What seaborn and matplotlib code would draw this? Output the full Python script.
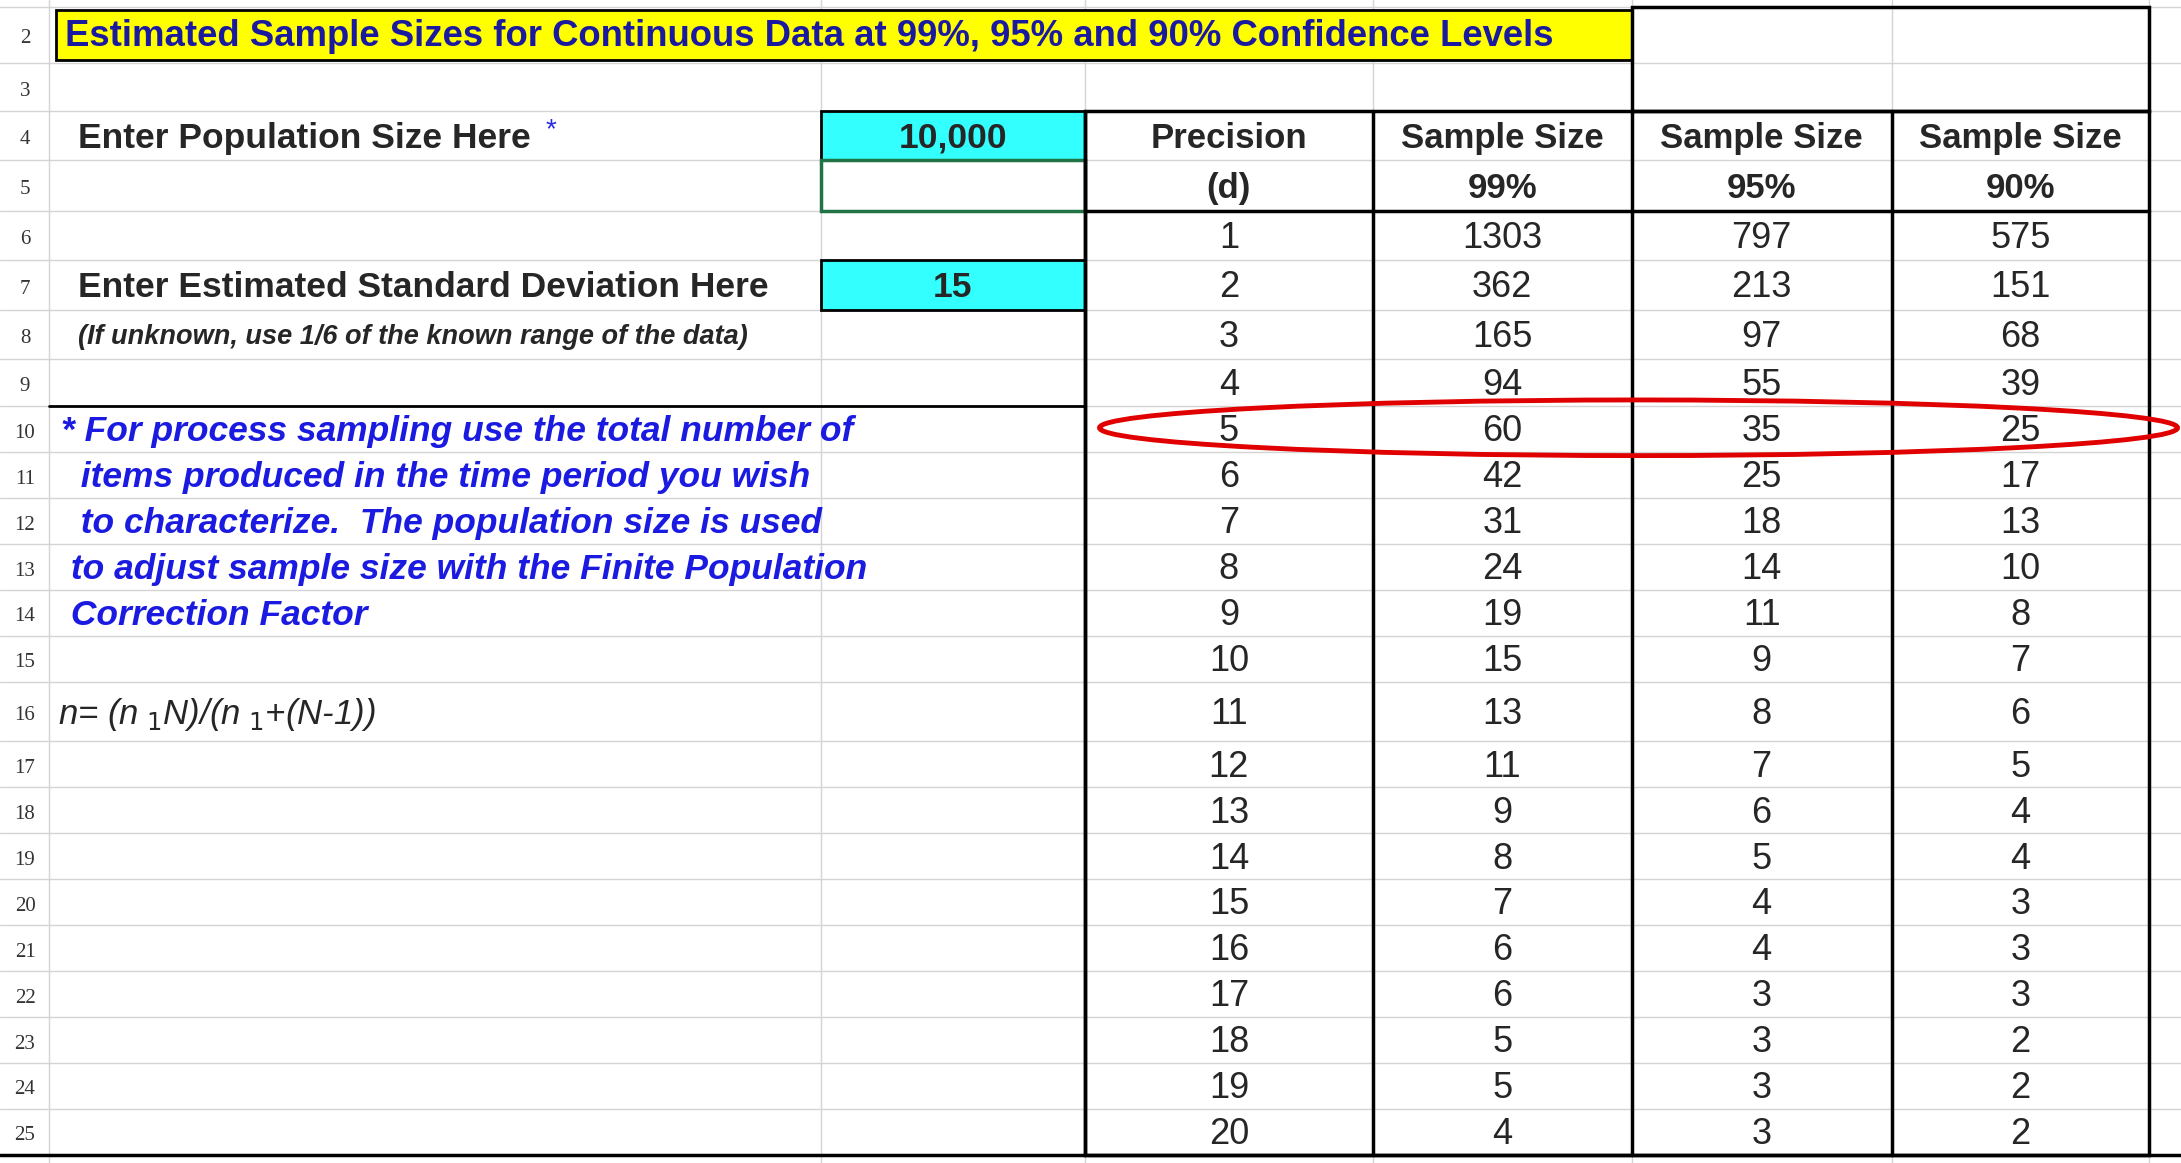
import matplotlib
matplotlib.use("Agg")
import matplotlib.pyplot as plt
import seaborn as sns
from matplotlib.patches import Rectangle, Ellipse

sns.set_style("white")
plt.rcParams['font.family'] = ['Liberation Sans', 'DejaVu Sans']

precision = list(range(1, 21))
size99 = [1303, 362, 165, 94, 60, 42, 31, 24, 19, 15, 13, 11, 9, 8, 7, 6, 6, 5, 5, 4]
size95 = [797, 213, 97, 55, 35, 25, 18, 14, 11, 9, 8, 7, 6, 5, 4, 4, 3, 3, 3, 3]
size90 = [575, 151, 68, 39, 25, 17, 13, 10, 8, 7, 6, 5, 4, 4, 3, 3, 3, 2, 2, 2]
title = "Estimated Sample Sizes for Continuous Data at 99%, 95% and 90% Confidence Levels"
note_lines = ["* For process sampling use the total number of",
              "  items produced in the time period you wish",
              "  to characterize.  The population size is used",
              " to adjust sample size with the Finite Population",
              " Correction Factor"]

fig = plt.figure(figsize=(21.81, 11.63), dpi=100)
ax = fig.add_axes([0, 0, 1, 1])
ax.set_xlim(0, 1568); ax.set_ylim(836, 0); ax.axis('off')

rows = [2] + list(range(3, 26))
edges = [5, 45, 80, 115, 152, 187, 223, 258, 292, 325, 358, 391, 424, 457, 490,
         533, 566, 599, 632, 665, 698, 731, 764, 797, 830]
cols = [35, 590, 780, 987, 1173, 1360, 1545]
LG = '#d4d4d4'
for y in edges:
    ax.plot([0, 1568], [y, y], color=LG, lw=1)
for x in cols:
    ax.plot([x, x], [0, 836], color=LG, lw=1)
for i, r in enumerate(rows):
    yc = (edges[i] + edges[i+1]) / 2
    ax.text(18, yc + 3, str(r), ha='center', va='center', fontsize=15, family='Liberation Serif', color='#333')

def cy(r):
    i = rows.index(r); return (edges[i] + edges[i+1]) / 2 + 2

ax.add_patch(Rectangle((40, 7), 1133, 36, facecolor='#ffff00', edgecolor='black', lw=2, zorder=2))
ax.text(47, 26, title, fontsize=26.3, fontweight='bold', color='#1a1aa0', va='center', zorder=3)
ax.add_patch(Rectangle((1173, 5), 372, 75, facecolor='none', edgecolor='black', lw=2.5, zorder=2))

ax.text(56, cy(4), "Enter Population Size Here", fontsize=25.5, fontweight='bold', va='center')
ax.text(392, cy(4) - 6, "*", fontsize=20, color='#2a2ae0', va='center')
ax.add_patch(Rectangle((590, 80), 190, 35, facecolor='#33ffff', edgecolor='black', lw=2, zorder=2))
ax.text(685, cy(4), "10,000", fontsize=25.5, fontweight='bold', ha='center', va='center', zorder=3)
ax.add_patch(Rectangle((590, 115), 190, 37, facecolor='none', edgecolor='#217346', lw=2.5, zorder=2))
ax.text(56, cy(7), "Enter Estimated Standard Deviation Here", fontsize=25.5, fontweight='bold', va='center')
ax.add_patch(Rectangle((590, 187), 190, 36, facecolor='#33ffff', edgecolor='black', lw=2, zorder=2))
ax.text(685, cy(7), "15", fontsize=25.5, fontweight='bold', ha='center', va='center', zorder=3)
ax.text(56, cy(8), "(If unknown, use 1/6 of the known range of the data)", fontsize=19.5,
        fontweight='bold', style='italic', va='center')
ax.plot([35, 780], [292, 292], color='black', lw=2)
for i, line in enumerate(note_lines):
    ax.text(44, cy(10 + i), line, fontsize=25.5, fontweight='bold', style='italic', color='#1a1ae0', va='center')
ax.text(42, cy(16), r"n= (n$_{\ 1}$N)/(n$_{\ 1}$+(N-1))", fontsize=25, style='italic', va='center')

ax.add_patch(Rectangle((780, 80), 765, 750, facecolor='none', edgecolor='black', lw=2.5, zorder=4))
for x in cols[2:-1]:
    ax.plot([x, x], [80, 830], color='black', lw=2.5, zorder=4)
ax.plot([780, 1545], [152, 152], color='black', lw=2.5, zorder=4)
ax.plot([0, 1568], [830, 830], color='black', lw=2.5, zorder=4)
heads = [("Precision", "(d)"), ("Sample Size", "99%"), ("Sample Size", "95%"), ("Sample Size", "90%")]
centers = [(cols[k] + cols[k+1]) / 2 for k in range(2, 6)]
for c, (a, b) in zip(centers, heads):
    ax.text(c, cy(4), a, fontsize=25, fontweight='bold', ha='center', va='center')
    ax.text(c, cy(5), b, fontsize=25, fontweight='bold', ha='center', va='center')
for j, p in enumerate(precision):
    y = cy(6 + j)
    for c, v in zip(centers, [p, size99[j], size95[j], size90[j]]):
        ax.text(c, y, str(v), fontsize=26, ha='center', va='center')

ax.add_patch(Ellipse((1178, cy(10) - 3), 775, 40, facecolor='none', edgecolor='#e00000', lw=3.5, zorder=6))

fig.savefig("out.png", dpi=100)
